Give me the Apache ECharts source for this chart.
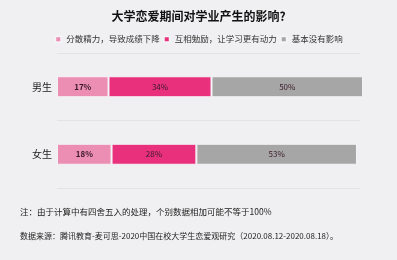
<!DOCTYPE html>
<html>
<head>
<meta charset="utf-8">
<script src="https://cdn.jsdelivr.net/npm/echarts@6/dist/echarts.min.js"></script>
<style>
  html, body { margin: 0; padding: 0; background: #f0f0f2; }
  #main { width: 397px; height: 260px; }
</style>
</head>
<body>
<div id="main"></div>
<script>
// 数据
var categories = ['男生', '女生'];
var distracted = [17, 18];   // 分散精力，导致成绩下降
var encouraged = [34, 28];   // 互相勉励，让学习更有动力
var noEffect = [50, 53];     // 基本没有影响

var font = '"Noto Sans CJK SC", "Noto Sans", sans-serif';

var myChart = echarts.init(document.getElementById('main'));

function seg(name, data, color, bold) {
    return {
        name: name,
        type: 'bar',
        stack: 'total',
        data: data,
        barWidth: 21,
        clip: false,
        itemStyle: { color: color, borderColor: '#f4f4f6', borderWidth: 1 },
        label: {
            show: true,
            position: 'inside',
            formatter: '{c}%',
            color: '#3a1a2a',
            fontSize: 8,
            fontWeight: bold ? 'bold' : 'normal',
            fontFamily: font
        }
    };
}

myChart.setOption({
    backgroundColor: '#f0f0f2',
    textStyle: { fontFamily: font },
    title: {
        text: '大学恋爱期间对学业产生的影响?',
        left: 'center',
        top: 5,
        textStyle: { fontSize: 12, fontWeight: 'bold', color: '#111', fontFamily: font }
    },
    legend: {
        top: 30,
        left: 'center',
        itemWidth: 6,
        itemHeight: 6,
        itemGap: 3,
        icon: 'rect',
        textStyle: { fontSize: 8.5, color: '#333', fontFamily: font },
        data: ['分散精力，导致成绩下降', '互相勉励，让学习更有动力', '基本没有影响']
    },
    grid: { left: 57, right: 37, top: 53, bottom: 72 },
    xAxis: {
        type: 'value',
        min: 0,
        max: 100,
        show: false
    },
    yAxis: {
        type: 'category',
        data: categories,
        inverse: true,
        axisLine: { show: false },
        axisTick: { show: false },
        axisLabel: { color: '#222', fontSize: 10, margin: 5, fontFamily: font },
        splitLine: { show: true, lineStyle: { color: '#e3e3e6', width: 1 } }
    },
    series: [
        seg('分散精力，导致成绩下降', distracted, '#ec8db3', true),
        seg('互相勉励，让学习更有动力', encouraged, '#e8307d', false),
        seg('基本没有影响', noEffect, '#a6a6a6', false)
    ],
    graphic: [
        {
            type: 'text', left: 20, top: 208,
            style: { text: '注：由于计算中有四舍五入的处理，个别数据相加可能不等于100%', fontSize: 8.5, fill: '#222', fontFamily: font }
        },
        {
            type: 'text', left: 20, top: 232,
            style: { text: '数据来源：腾讯教育-麦可思-2020中国在校大学生恋爱观研究（2020.08.12-2020.08.18）。', fontSize: 8, fill: '#222', fontFamily: font }
        }
    ]
});
</script>
</body>
</html>
